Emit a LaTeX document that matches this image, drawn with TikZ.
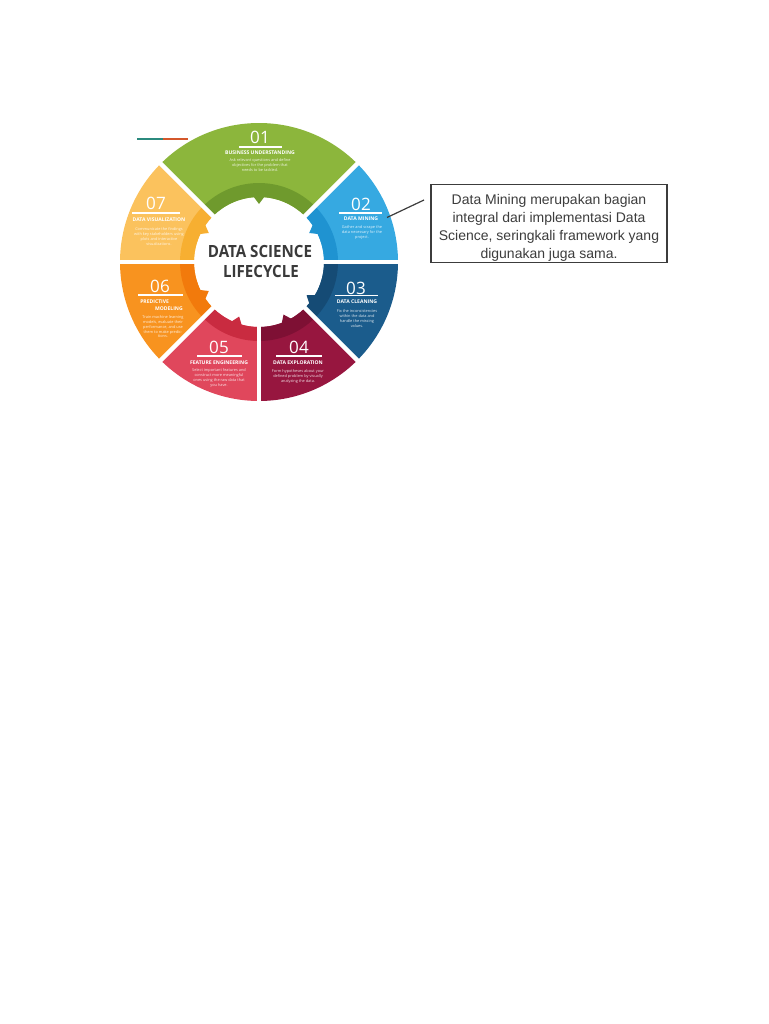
\documentclass[tikz,border=0pt]{standalone}
\usepackage{fontspec}
\setmainfont{Open Sans}
\newfontfamily\titlefont[FakeStretch=0.9]{Open Sans}
\newfontfamily\notefont{Liberation Sans}

\definecolor{segA}{HTML}{8CB63C}  \definecolor{segAd}{HTML}{6F9A2D}
\definecolor{segB}{HTML}{36A9E1}  \definecolor{segBd}{HTML}{1F93D1}
\definecolor{segC}{HTML}{1B5C8C}  \definecolor{segCd}{HTML}{154B75}
\definecolor{segD}{HTML}{97163F}  \definecolor{segDd}{HTML}{7E1034}
\definecolor{segE}{HTML}{E0475C}  \definecolor{segEd}{HTML}{C92B40}
\definecolor{segF}{HTML}{F8931F}  \definecolor{segFd}{HTML}{F27A0C}
\definecolor{segG}{HTML}{FBC25D}  \definecolor{segGd}{HTML}{F7AF31}
\definecolor{titlegray}{HTML}{3A3A3A}
\definecolor{notegray}{HTML}{3C3C3C}
\definecolor{decoteal}{HTML}{2B8A7E}
\definecolor{decoorange}{HTML}{D4572B}

\begin{document}
\begin{tikzpicture}[x=0.75pt,y=0.75pt,
	num/.style={text=white,inner sep=0pt,font=\fontsize{12.8}{13}\selectfont},
	capt/.style={text=white,inner sep=0pt,font=\bfseries\fontsize{3.8}{4.5}\selectfont},
	desc/.style={text=white,text opacity=0.85,inner sep=0pt,align=center,font=\fontsize{2.9}{3.7}\selectfont},
	numline/.style={white,line width=0.9pt},
	gap/.style={white,line width=3.2pt}]
	\useasboundingbox (0,0) rectangle (768,-1024);

	%deco bar
	\draw[decoteal,line width=2.2pt] (137,-139)--(163,-139);
	\draw[decoorange,line width=2.2pt] (163,-139)--(188,-139);

	\begin{scope}[shift={(259,-262)}]
	%segments
	\fill[segA] (45:139) arc[start angle=45,end angle=135,radius=139] -- (135:65) arc[start angle=135,end angle=45,radius=65] -- cycle;		%01
	\fill[segB] (0:139) arc[start angle=0,end angle=45,radius=139] -- (45:65) arc[start angle=45,end angle=0,radius=65] -- cycle;			%02
	\fill[segC] (-45:139) arc[start angle=-45,end angle=0,radius=139] -- (0:65) arc[start angle=0,end angle=-45,radius=65] -- cycle;		%03
	\fill[segD] (-90:139) arc[start angle=-90,end angle=-45,radius=139] -- (-45:65) arc[start angle=-45,end angle=-90,radius=65] -- cycle;	%04
	\fill[segE] (-135:139) arc[start angle=-135,end angle=-90,radius=139] -- (-90:65) arc[start angle=-90,end angle=-135,radius=65] -- cycle;	%05
	\fill[segF] (180:139) arc[start angle=180,end angle=225,radius=139] -- (225:65) arc[start angle=225,end angle=180,radius=65] -- cycle;	%06
	\fill[segG] (135:139) arc[start angle=135,end angle=180,radius=139] -- (180:65) arc[start angle=180,end angle=135,radius=65] -- cycle;	%07

	%inner bands
	\fill[segAd] (45:79) arc[start angle=45,end angle=135,radius=79] -- (135:65) arc[start angle=135,end angle=45,radius=65] -- cycle;
	\fill[segBd] (0:79) arc[start angle=0,end angle=45,radius=79] -- (45:65) arc[start angle=45,end angle=0,radius=65] -- cycle;
	\fill[segCd] (-45:79) arc[start angle=-45,end angle=0,radius=79] -- (0:65) arc[start angle=0,end angle=-45,radius=65] -- cycle;
	\fill[segDd] (-90:79) arc[start angle=-90,end angle=-45,radius=79] -- (-45:65) arc[start angle=-45,end angle=-90,radius=65] -- cycle;
	\fill[segEd] (-135:79) arc[start angle=-135,end angle=-90,radius=79] -- (-90:65) arc[start angle=-90,end angle=-135,radius=65] -- cycle;
	\fill[segFd] (180:79) arc[start angle=180,end angle=225,radius=79] -- (225:65) arc[start angle=225,end angle=180,radius=65] -- cycle;
	\fill[segGd] (135:79) arc[start angle=135,end angle=180,radius=79] -- (180:65) arc[start angle=180,end angle=135,radius=65] -- cycle;

	%teeth
	\fill[segAd] (85:66) -- (90:58) -- (95:66) -- cycle;
	\fill[segBd] (25:66) -- (30:58) -- (35:66) -- cycle;
	\fill[segCd] (-30:66) -- (-35:58) -- (-40:66) -- cycle;
	\fill[segDd] (-60:66) -- (-65:58) -- (-70:66) -- cycle;
	\fill[segEd] (-105:66) -- (-110:58) -- (-115:66) -- cycle;
	\fill[segFd] (-145:66) -- (-150:58) -- (-155:66) -- cycle;
	\fill[segGd] (145:66) -- (150:58) -- (155:66) -- cycle;

	%white gaps
	\draw[gap] (0:50)--(0:145);
	\draw[gap] (45:50)--(45:145);
	\draw[gap] (135:50)--(135:145);
	\draw[gap] (180:50)--(180:145);
	\draw[gap] (225:50)--(225:145);
	\draw[gap] (270:50)--(270:145);
	\draw[gap] (315:50)--(315:145);
	\end{scope}

	%title
	\node[text=titlegray,font=\titlefont\bfseries\fontsize{12.6}{14}\selectfont,inner sep=0pt] (title1) at (260,-251.5) {DATA SCIENCE};
	\node[text=titlegray,font=\titlefont\bfseries\fontsize{12.6}{14}\selectfont,inner sep=0pt] (title2) at (261,-271) {LIFECYCLE};

	%01
	\node[num] (n1) at (260,-137.5) {01};
	\draw[numline] (239,-147)--(282,-147);
	\node[capt] (c1) at (260,-153) {BUSINESS UNDERSTANDING};
	\node[desc,anchor=north] (d1) at (260,-158) {Ask relevant questions and define\\objectives for the problem that\\needs to be tackled.};

	%02
	\node[num] (n2) at (361,-204) {02};
	\draw[numline] (339,-213)--(382,-213);
	\node[capt] (c2) at (361,-218.5) {DATA MINING};
	\node[desc,anchor=north] (d2) at (362,-225) {Gather and scrape the\\data necessary for the\\project.};

	%03
	\node[num] (n3) at (356,-288) {03};
	\draw[numline] (335,-295.5)--(378,-295.5);
	\node[capt] (c3) at (357,-302) {DATA CLEANING};
	\node[desc,anchor=north] (d3) at (357,-309) {Fix the inconsistencies\\within the data and\\handle the missing\\values.};

	%04
	\node[num] (n4) at (299,-347.5) {04};
	\draw[numline] (276,-356)--(322,-356);
	\node[capt] (c4) at (298,-363) {DATA EXPLORATION};
	\node[desc,anchor=north] (d4) at (298,-369) {Form hypotheses about your\\defined problem by visually\\analyzing the data.};

	%05
	\node[num] (n5) at (219,-347) {05};
	\draw[numline] (197,-356)--(242,-356);
	\node[capt] (c5) at (219,-363) {FEATURE ENGINEERING};
	\node[desc,anchor=north] (d5) at (219,-368) {Select important features and\\construct more meaningful\\ones using the raw data that\\you have.};

	%06
	\node[num] (n6) at (160,-286) {06};
	\draw[numline] (138,-295)--(183,-295);
	\node[capt,anchor=west] (c6a) at (140,-302) {PREDICTIVE};
	\node[capt,anchor=east] (c6b) at (183,-308.5) {MODELING};
	\node[desc,anchor=north] (d6) at (163,-315) {Train machine learning\\models, evaluate their\\performance, and use\\them to make predic-\\tions.};

	%07
	\node[num] (n7) at (156,-203) {07};
	\draw[numline] (132,-213)--(180,-213);
	\node[capt] (c7) at (159,-220) {DATA VISUALIZATION};
	\node[desc,anchor=north] (d7) at (159,-227) {Communicate the findings\\with key stakeholders using\\plots and interactive\\visualizations.};

	%callout
	\node[draw=notegray,line width=0.9pt,minimum width=177pt,minimum height=58pt,inner sep=0pt] (note) at (549,-223.5) {};
	\node[align=center,inner sep=0pt,text=notegray,font=\notefont\fontsize{10.5}{13.5}\selectfont] (notetext) at (549,-227.5) {Data Mining merupakan bagian\\integral dari implementasi Data\\Science, seringkali framework yang\\digunakan juga sama.};
	\coordinate (tip) at (387,-217.5);
	\coordinate (tail) at (424,-200);
	\draw[notegray,line width=0.9pt] (tip)--(tail);
\end{tikzpicture}
\end{document}
